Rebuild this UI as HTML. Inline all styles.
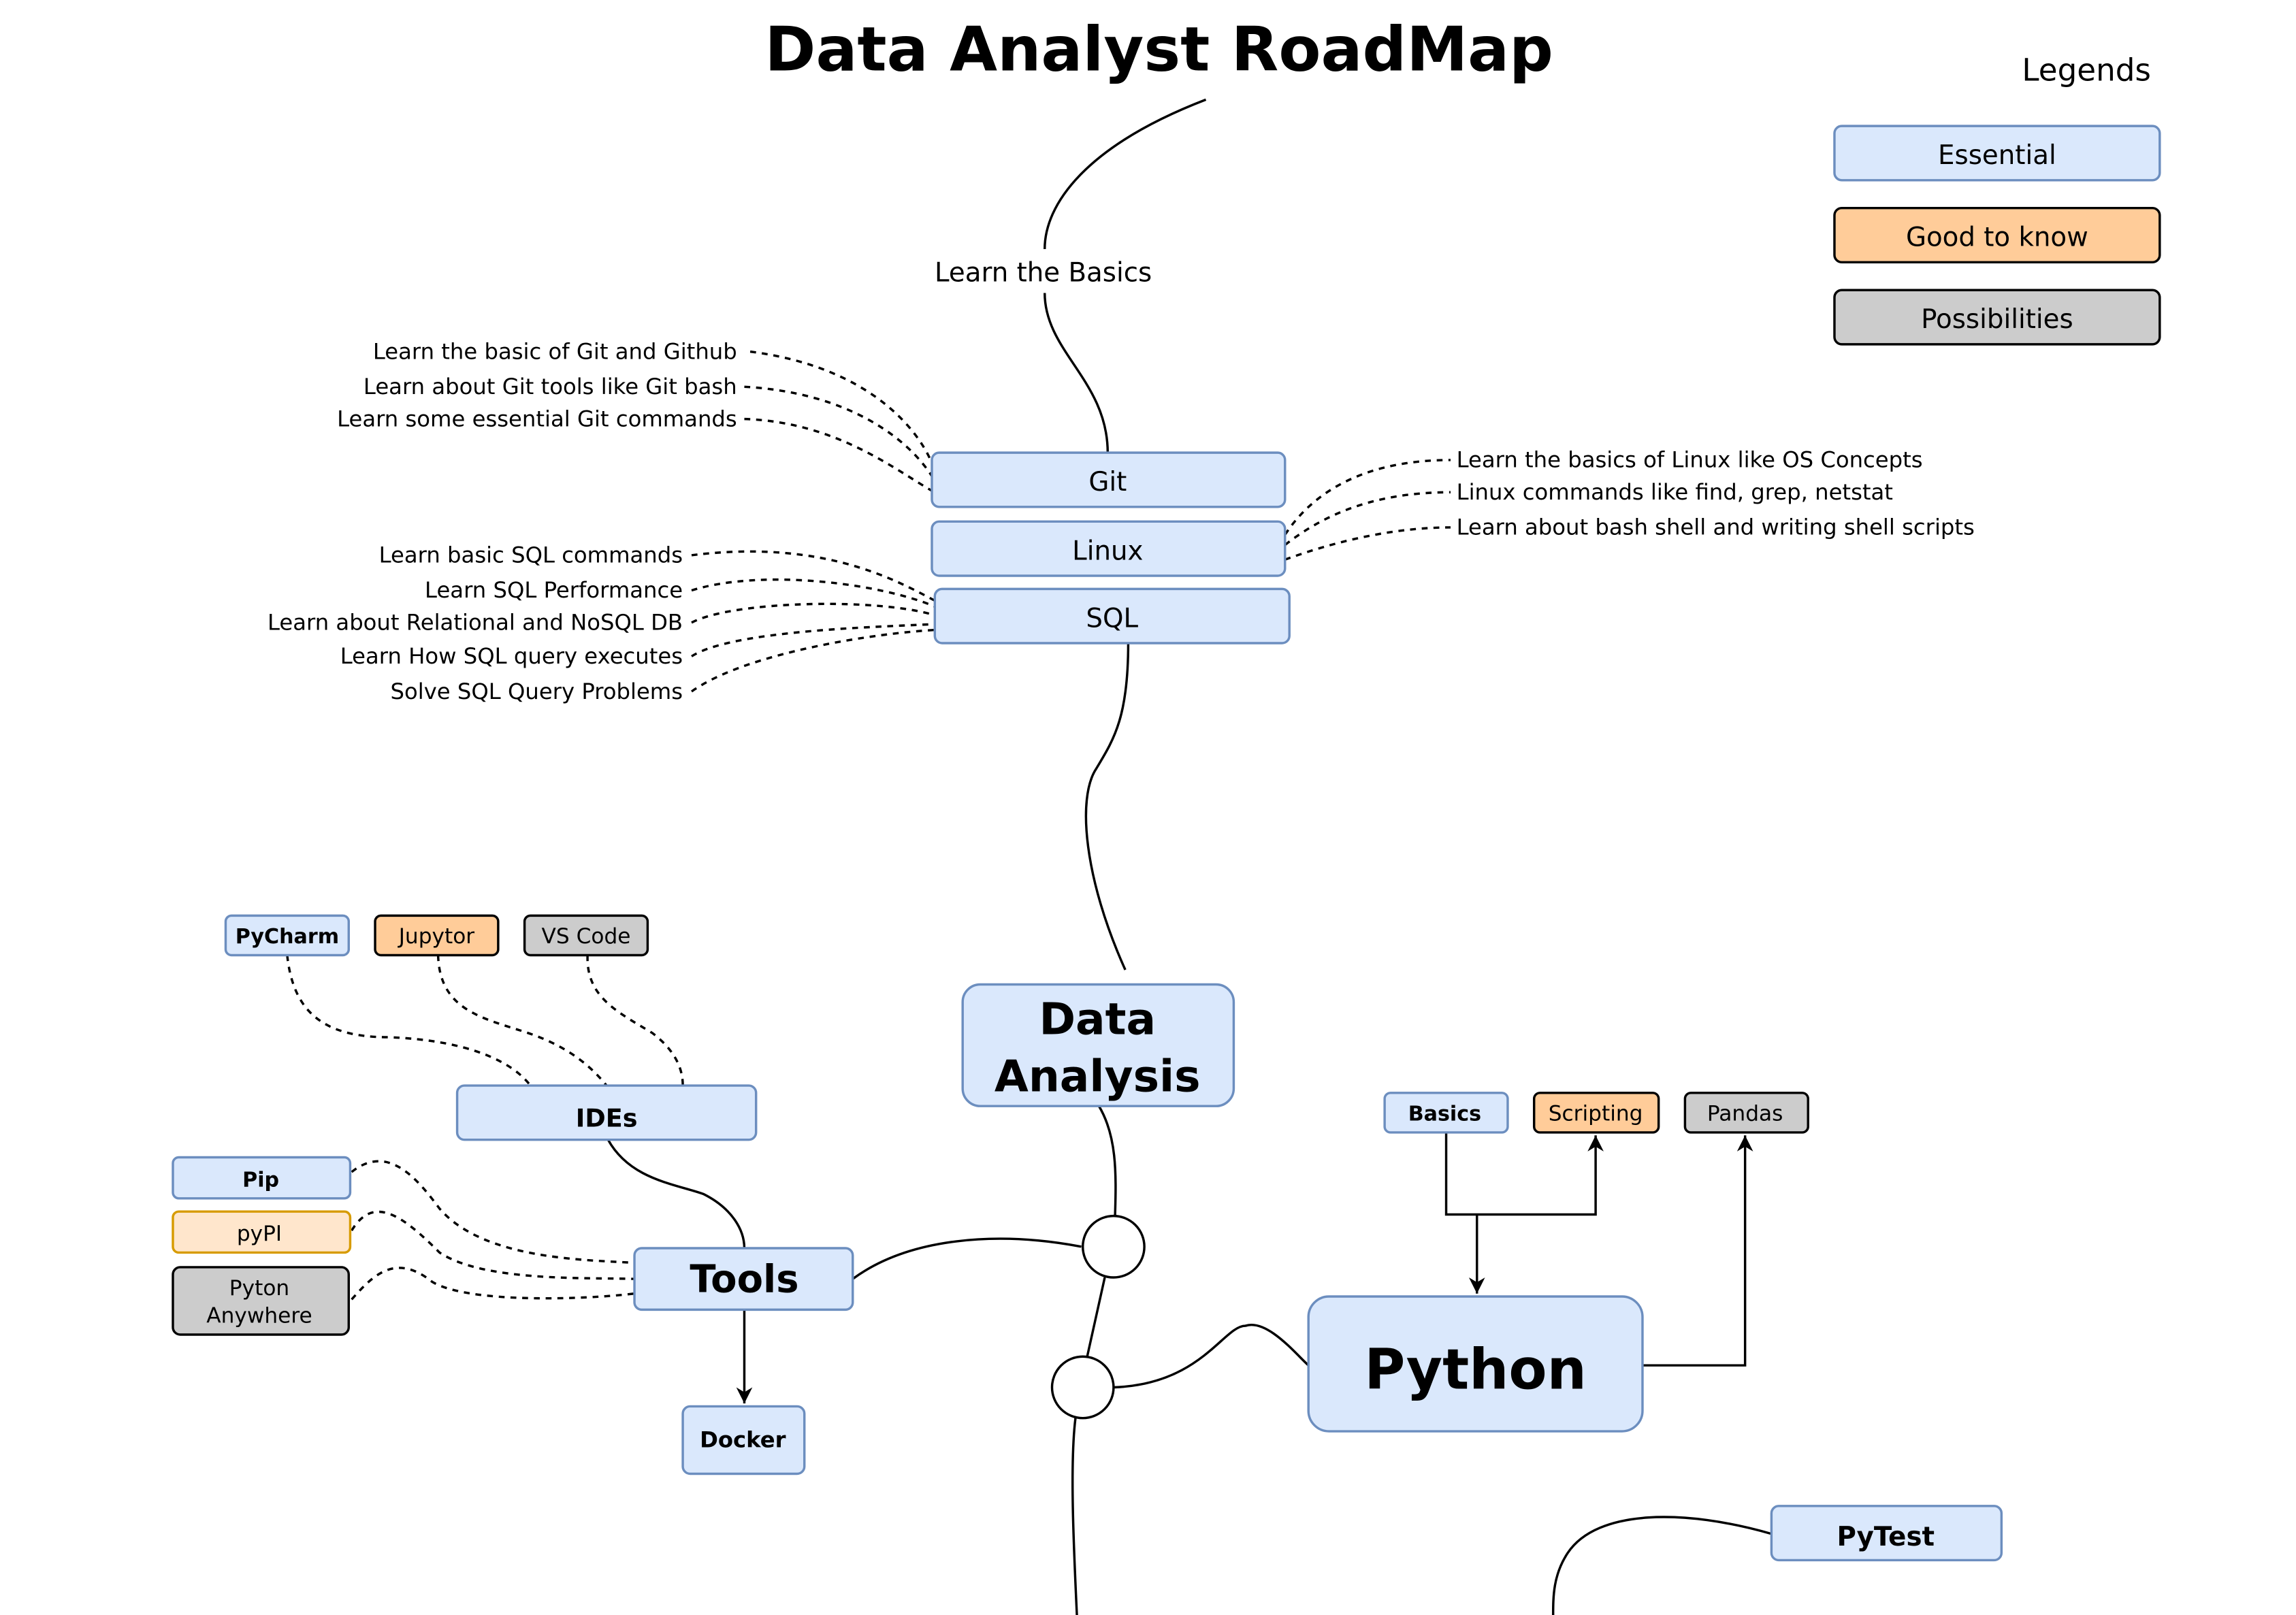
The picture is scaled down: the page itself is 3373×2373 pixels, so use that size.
<!DOCTYPE html>
<html><head><meta charset="utf-8"><style>
html,body{margin:0;padding:0;background:#fff;width:3373px;height:2373px;overflow:hidden}
svg{display:block}
text{font-family:"DejaVu Sans","Liberation Sans",sans-serif;fill:#000}
</style></head><body>
<svg width="3373" height="2373" viewBox="0 0 1567 1102.4" xmlns="http://www.w3.org/2000/svg">
<defs>
<marker id="ar" viewBox="0 0 10 10" refX="10" refY="5" markerWidth="13" markerHeight="11" orient="auto" markerUnits="userSpaceOnUse">
<path d="M0,0 L10,5 L0,10 L3,5 z" fill="#000"/></marker>
</defs>
<g fill="none" stroke="#000" stroke-width="1.6">
<path d="M823,68 C740,100 713,140 713,170"/>
<path d="M713,200 C713,240 756,260 756,309"/>
<path d="M770,439 C770,490 760,505 748,525 C735,545 740,600 768,662"/>
<path d="M750,755 C762,775 762,800 761,830"/>
<path d="M754,872 L742,926"/>
<path d="M738,851 C680,840 620,845 582,873"/>
<path d="M760,947 C820,945 835,905 850,905 C865,900 885,925 893,932"/>
<path d="M734,968 C730,1000 733,1060 735,1103"/>
<path d="M415,778 C430,805 460,808 480,815 C500,825 508,840 508,852"/>
<path d="M1209,1047 C1150,1030 1090,1030 1070,1060 C1060,1075 1060,1090 1060,1103"/>
<path d="M508,894 L508,958" marker-end="url(#ar)"/>
<path d="M987,773 L987,829 L1089,829 L1089,775" marker-end="url(#ar)"/>
<path d="M1008,829 L1008,883" marker-end="url(#ar)"/>
<path d="M1121,932 L1191,932 L1191,775" marker-end="url(#ar)"/>
</g>
<g fill="none" stroke="#000" stroke-width="1.6" stroke-dasharray="4,4">
<path d="M512,240 C590,250 625,290 636,316"/>
<path d="M508,264 C580,268 620,300 636,325"/>
<path d="M508,286 C570,288 610,320 636,335"/>
<path d="M877,365 C900,330 940,314 990,314"/>
<path d="M877,372 C905,350 940,336 990,336"/>
<path d="M877,382 C910,370 950,360 990,360"/>
<path d="M472,379 C560,368 610,395 638,410"/>
<path d="M472,403 C520,388 600,398 638,414"/>
<path d="M472,425 C500,410 600,408 638,420"/>
<path d="M472,448 C500,430 600,428 638,426"/>
<path d="M472,472 C510,445 600,432 638,430"/>
<path d="M196,652 C200,690 220,708 265,708 C320,710 350,725 362,741"/>
<path d="M299,652 C300,690 330,695 360,705 C390,715 405,730 414,741"/>
<path d="M401,652 C400,680 420,690 445,705 C465,720 466,735 466,741"/>
<path d="M240,800 C265,780 285,805 300,825 C330,860 400,860 433,862"/>
<path d="M240,840 C255,815 275,830 300,855 C330,875 400,872 433,873"/>
<path d="M240,887 C255,870 270,855 295,875 C320,890 400,887 433,883"/>
</g>
<circle cx="760" cy="851" r="21" fill="#fff" stroke="#000" stroke-width="1.6"/>
<circle cx="739" cy="947" r="21" fill="#fff" stroke="#000" stroke-width="1.6"/>
<g stroke-width="1.6">
<rect x="1252" y="86" width="222" height="37" rx="5" fill="#dae8fc" stroke="#6c8ebf"/>
<rect x="1252" y="142" width="222" height="37" rx="5" fill="#ffcc99" stroke="#000"/>
<rect x="1252" y="198" width="222" height="37" rx="5" fill="#cccccc" stroke="#000"/>
<rect x="636" y="309" width="241" height="37" rx="5" fill="#dae8fc" stroke="#6c8ebf"/>
<rect x="636" y="356" width="241" height="37" rx="5" fill="#dae8fc" stroke="#6c8ebf"/>
<rect x="638" y="402" width="242" height="37" rx="5" fill="#dae8fc" stroke="#6c8ebf"/>
<rect x="657" y="672" width="185" height="83" rx="12" fill="#dae8fc" stroke="#6c8ebf"/>
<rect x="893" y="885" width="228" height="92" rx="14" fill="#dae8fc" stroke="#6c8ebf"/>
<rect x="312" y="741" width="204" height="37" rx="5" fill="#dae8fc" stroke="#6c8ebf"/>
<rect x="433" y="852" width="149" height="42" rx="5" fill="#dae8fc" stroke="#6c8ebf"/>
<rect x="466" y="960" width="83" height="46" rx="5" fill="#dae8fc" stroke="#6c8ebf"/>
<rect x="154" y="625" width="84" height="27" rx="4" fill="#dae8fc" stroke="#6c8ebf"/>
<rect x="256" y="625" width="84" height="27" rx="4" fill="#ffcc99" stroke="#000"/>
<rect x="358" y="625" width="84" height="27" rx="4" fill="#cccccc" stroke="#000"/>
<rect x="118" y="790" width="121" height="28" rx="4" fill="#dae8fc" stroke="#6c8ebf"/>
<rect x="118" y="827" width="121" height="28" rx="4" fill="#ffe6cc" stroke="#d79b00"/>
<rect x="118" y="865" width="120" height="46" rx="5" fill="#cccccc" stroke="#000"/>
<rect x="945" y="746" width="84" height="27" rx="4" fill="#dae8fc" stroke="#6c8ebf"/>
<rect x="1047" y="746" width="85" height="27" rx="4" fill="#ffcc99" stroke="#000"/>
<rect x="1150" y="746" width="84" height="27" rx="4" fill="#cccccc" stroke="#000"/>
<rect x="1209" y="1028" width="157" height="37" rx="5" fill="#dae8fc" stroke="#6c8ebf"/>
</g>
<text x="791" y="48" font-size="42" font-weight="bold" text-anchor="middle">Data Analyst RoadMap</text>
<text x="1424" y="55" font-size="21" text-anchor="middle">Legends</text>
<g font-size="18" text-anchor="middle">
<text x="1363" y="112">Essential</text>
<text x="1363" y="168">Good to know</text>
<text x="1363" y="224">Possibilities</text>
<text x="712" y="192">Learn the Basics</text>
<text x="756" y="335">Git</text>
<text x="756" y="382">Linux</text>
<text x="759" y="428">SQL</text>
</g>
<g font-size="15" text-anchor="end">
<text x="503" y="245">Learn the basic of Git and Github</text>
<text x="503" y="269">Learn about Git tools like Git bash</text>
<text x="503" y="291">Learn some essential Git commands</text>
<text x="466" y="384">Learn basic SQL commands</text>
<text x="466" y="408">Learn SQL Performance</text>
<text x="466" y="430">Learn about Relational and NoSQL DB</text>
<text x="466" y="453">Learn How SQL query executes</text>
<text x="466" y="477">Solve SQL Query Problems</text>
</g>
<g font-size="15">
<text x="994" y="319">Learn the basics of Linux like OS Concepts</text>
<text x="994" y="341">Linux commands like find, grep, netstat</text>
<text x="994" y="365">Learn about bash shell and writing shell scripts</text>
</g>
<g text-anchor="middle" font-weight="bold">
<text x="749" y="706" font-size="30">Data</text>
<text x="749" y="745" font-size="30">Analysis</text>
<text x="1007" y="948" font-size="38">Python</text>
<text x="414" y="769" font-size="17">IDEs</text>
<text x="508" y="882" font-size="26">Tools</text>
<text x="507" y="988" font-size="15">Docker</text>
<text x="196" y="644" font-size="14">PyCharm</text>
<text x="178" y="810" font-size="14">Pip</text>
<text x="986" y="765" font-size="14">Basics</text>
<text x="1287" y="1055" font-size="18">PyTest</text>
</g>
<g text-anchor="middle" font-size="14.5">
<text x="298" y="644">Jupytor</text>
<text x="400" y="644">VS Code</text>
<text x="177" y="847">pyPI</text>
<text x="177" y="884">Pyton</text>
<text x="177" y="903">Anywhere</text>
<text x="1089" y="765">Scripting</text>
<text x="1191" y="765">Pandas</text>
</g>
</svg>
</body></html>
